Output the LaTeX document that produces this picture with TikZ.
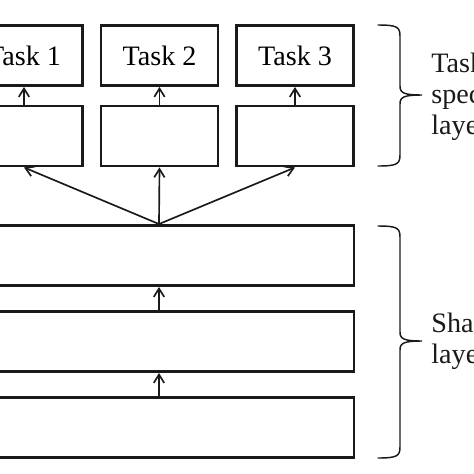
\documentclass[tikz,border=0pt]{standalone}
\usepackage{fontspec}
\setmainfont{Liberation Serif}
\usepackage{tikz}
\usetikzlibrary{arrows.meta}
\definecolor{ink}{HTML}{1A1A1A}
\tikzset{
  box/.style={draw=ink, line width=1.2pt, minimum width=56pt, minimum height=29pt, inner sep=0pt, font=\fontsize{13.5}{15}\selectfont},
  wide/.style={box, minimum width=187pt},
  arr/.style={draw=ink, line width=0.8pt, -{Straight Barb[length=4pt,width=5pt]}},
  brc/.style={draw=ink, line width=0.7pt, line cap=round},
  lab/.style={text=ink, font=\fontsize{13.5}{15}\selectfont, align=left, anchor=west, inner sep=0pt},
}
\begin{document}
\begin{tikzpicture}[x=0.48pt, y=-0.48pt]
\useasboundingbox (0,0) rectangle (474,474);
\clip (0,0) rectangle (474,474);
\foreach \i/\x in {1/24,2/159.5,3/295}{
  \node[box] (t\i) at (\x,55.5) {Task \i};
  \node[box] (s\i) at (\x,136) {};
  \draw[arr] (s\i.north) -- (t\i.south);
}
\foreach \i/\y in {1/427.5,2/341.5,3/255.5}
  \node[wide] (h\i) at (159,\y) {};
\draw[arr] (h1.north) -- (h2.south);
\draw[arr] (h2.north) -- (h3.south);
\foreach \i in {1,2,3}
  \draw[arr] (h3.north) -- (s\i.south);
\draw[brc] (378,25) .. controls (397,25) and (400,27) .. (400,36) -- (400,86)
  .. controls (400,93) and (404,95) .. (422,95) .. controls (404,95) and (400,97) .. (400,104)
  -- (400,155) .. controls (400,164) and (397,166) .. (378,166);
\draw[brc] (378,226) .. controls (397,226) and (400,228) .. (400,237) -- (400,332)
  .. controls (400,339) and (404,341) .. (422,341) .. controls (404,341) and (400,343) .. (400,350)
  -- (400,447) .. controls (400,456) and (397,458) .. (378,458);
\node[lab] (spec) at (431,97) {Task-\\specific\\layers};
\node[lab] (shared) at (431,341) {Shared\\layers};
\end{tikzpicture}
\end{document}
